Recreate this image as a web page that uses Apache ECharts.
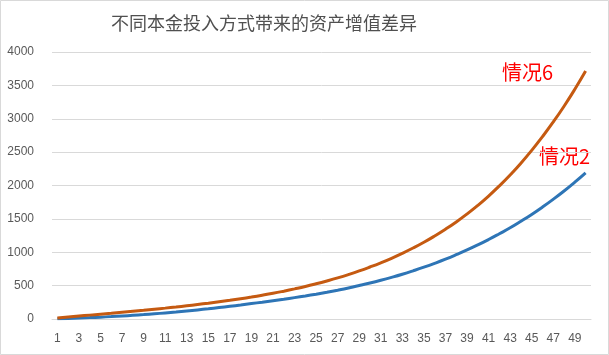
<!DOCTYPE html>
<html>
<head>
<meta charset="utf-8">
<script src="https://cdn.jsdelivr.net/npm/echarts@6/dist/echarts.min.js"></script>
<style>
html,body{margin:0;padding:0;background:#fff;}
#c{width:609px;height:355px;}
</style>
</head>
<body>
<div id="c"></div>
<script>
const titleText = '不同本金投入方式带来的资产增值差异';
const years = Array.from({length: 50}, (_, i) => String(i + 1));
const yTicks = [0, 500, 1000, 1500, 2000, 2500, 3000, 3500, 4000];
const seriesNames = ['情况2', '情况6'];
const case2 = [4, 9, 15, 21, 28, 36, 45, 55, 66, 78,
  91, 105, 120, 136, 153, 171, 190, 210, 231, 252,
  274, 296, 320, 345, 372, 401, 432, 465, 501, 539,
  580, 624, 671, 722, 776, 834, 896, 963, 1034, 1110,
  1191, 1277, 1366, 1464, 1567, 1677, 1794, 1918, 2050, 2190];
const case6 = [15, 30, 44, 58, 72, 86, 101, 116, 131, 147,
  163, 180, 198, 217, 237, 258, 280, 304, 329, 356,
  385, 417, 451, 487, 527, 570, 616, 666, 720, 779,
  842, 910, 984, 1064, 1150, 1244, 1345, 1454, 1573, 1702,
  1842, 1994, 2158, 2335, 2526, 2732, 2952, 3188, 3442, 3714];

const chart = echarts.init(document.getElementById('c'), null, {renderer: 'canvas'});
const axisFont = '"Liberation Sans", Arial, sans-serif';
const cjkFont = '"Noto Sans CJK SC", "Noto Sans", sans-serif';
chart.setOption({
  animation: false,
  backgroundColor: '#ffffff',
  title: {
    text: titleText,
    left: 106,
    top: 9,
    textStyle: {fontFamily: cjkFont, fontSize: 18, fontWeight: 'normal', color: '#505050'}
  },
  grid: {left: 52, right: 18, top: 52, bottom: 36, containLabel: false},
  xAxis: {
    type: 'category',
    data: years,
    boundaryGap: true,
    axisLine: {show: true, lineStyle: {color: '#d9d9d9', width: 1}},
    axisTick: {show: false},
    axisLabel: {interval: 1, margin: 14, color: '#595959', fontSize: 12, fontFamily: axisFont}
  },
  yAxis: {
    type: 'value',
    min: yTicks[0],
    max: yTicks[yTicks.length - 1],
    interval: yTicks[1] - yTicks[0],
    axisLine: {show: false},
    axisTick: {show: false},
    splitLine: {lineStyle: {color: '#d9d9d9', width: 1}},
    axisLabel: {margin: 18, color: '#595959', fontSize: 12, fontFamily: axisFont,
      formatter: function (v) { return String(v); }}
  },
  series: [
    {name: seriesNames[0], type: 'line', data: case2, smooth: true, showSymbol: false,
     lineStyle: {color: '#2e75b6', width: 3}, itemStyle: {color: '#2e75b6'}},
    {name: seriesNames[1], type: 'line', data: case6, smooth: true, showSymbol: false,
     lineStyle: {color: '#c55a11', width: 3}, itemStyle: {color: '#c55a11'}}
  ],
  graphic: [
    {type: 'rect', silent: true, shape: {x: 0.5, y: 0.5, width: 608, height: 354},
     style: {fill: 'none', stroke: '#d9d9d9', lineWidth: 1}},
    {type: 'text', left: 502, top: 62,
     style: {text: seriesNames[1], fill: '#ff0000', font: '20px ' + cjkFont}},
    {type: 'text', left: 539, top: 146,
     style: {text: seriesNames[0], fill: '#ff0000', font: '20px ' + cjkFont}}
  ]
});
</script>
</body>
</html>
